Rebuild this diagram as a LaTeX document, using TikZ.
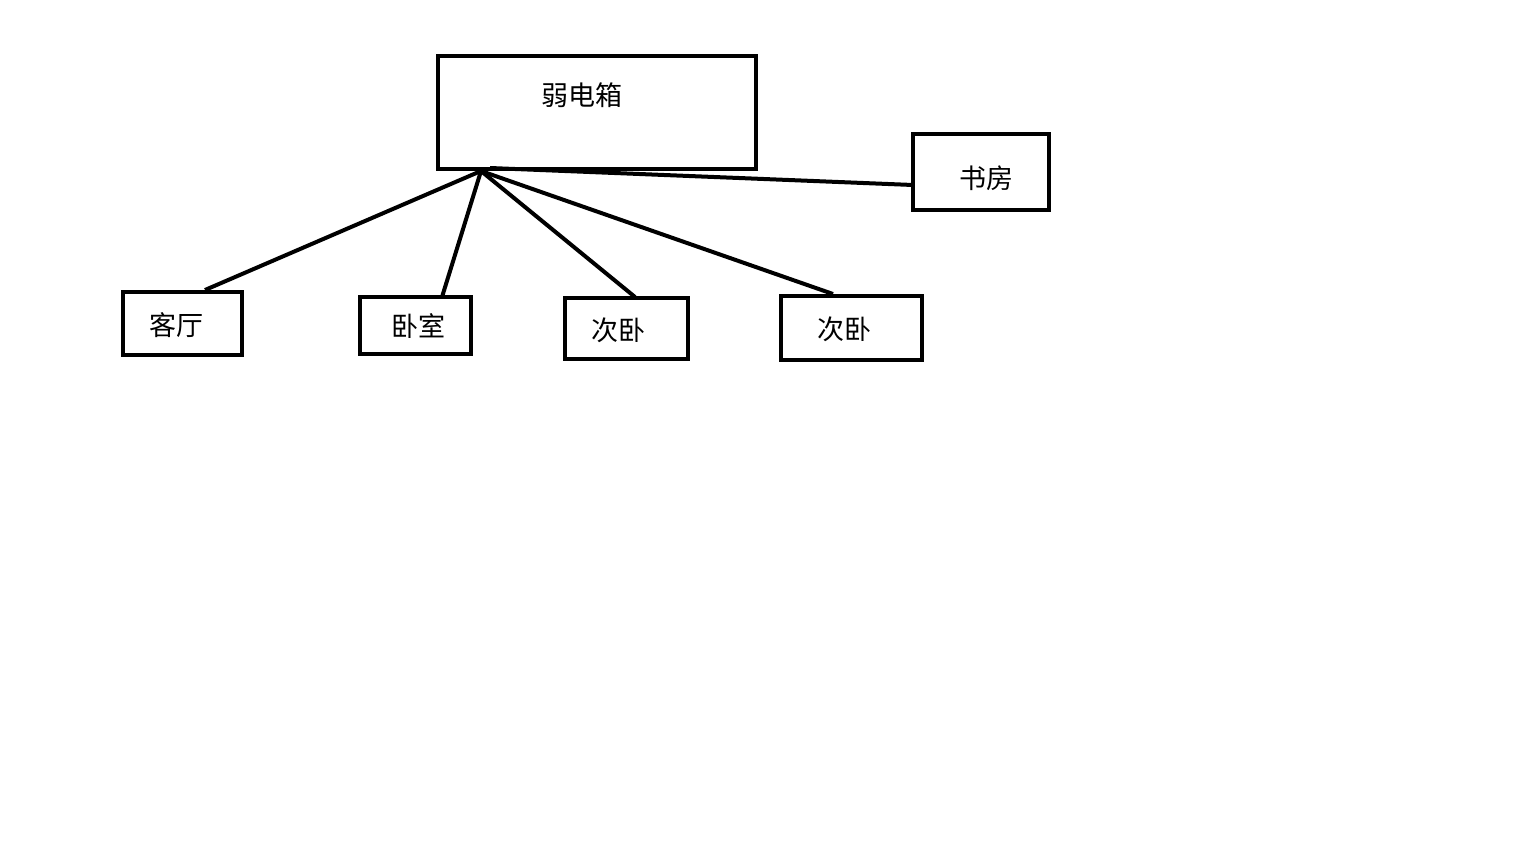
\documentclass[tikz,border=0pt]{standalone}
\usepackage{fontspec}
\newfontfamily\cjk{Noto Sans CJK SC}
\begin{document}
\begin{tikzpicture}[x=1pt,y=-1pt,
  box/.style={draw=black,line width=4.2pt,rectangle,inner sep=0pt},
  lbl/.style={font=\cjk\fontsize{27}{29}\selectfont,inner sep=0pt,text=black},
  wire/.style={draw=black,line width=4pt}]
\useasboundingbox[fill=white] (0,0) rectangle (1536,864);
% boxes
\node[box,minimum width=318pt,minimum height=113pt] (main) at (597,112.5) {};
\node[box,minimum width=136pt,minimum height=76pt] (sf) at (981,172) {};
\node[box,minimum width=119pt,minimum height=63pt] (kt) at (182.5,323.5) {};
\node[box,minimum width=111pt,minimum height=57pt] (ws) at (415.5,325.5) {};
\node[box,minimum width=123pt,minimum height=61pt] (cw1) at (626.5,328.5) {};
\node[box,minimum width=141pt,minimum height=64pt] (cw2) at (851.5,328) {};
% labels
\node[lbl] (tmain) at (582,95) {弱电箱};
\node[lbl] (tsf) at (986,178) {书房};
\node[lbl] (tkt) at (176,325) {客厅};
\node[lbl] (tws) at (418,326) {卧室};
\node[lbl] (tcw1) at (618,330) {次卧};
\node[lbl] (tcw2) at (844,329) {次卧};
% connection points
\coordinate (hub) at (481,171);
\coordinate (hub2) at (490,168);
\coordinate (pkt) at (205,290);
\coordinate (pws) at (442,297);
\coordinate (pcw1) at (635,297);
\coordinate (pcw2) at (833,294);
\coordinate (psf) at (913,185);
% wires
\draw[wire] (hub) -- (pkt);
\draw[wire] (hub) -- (pws);
\draw[wire] (hub) -- (pcw1);
\draw[wire] (hub) -- (pcw2);
\draw[wire] (hub2) -- (psf);
\end{tikzpicture}
\end{document}
